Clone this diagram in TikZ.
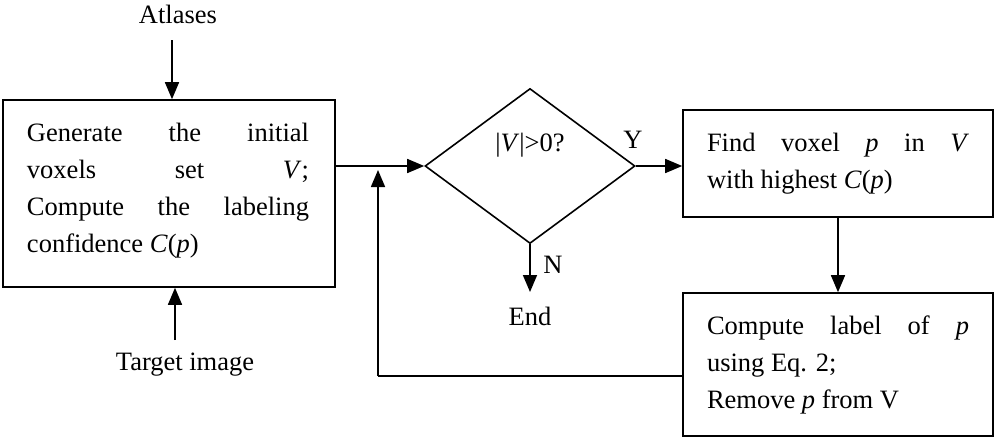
\documentclass[tikz,border=0pt]{standalone}
\usepackage{fontspec}
\setmainfont{Liberation Serif}
\usetikzlibrary{shapes.geometric, arrows.meta}
\newcommand{\fullline}[2]{\makebox[#1][s]{#2}}
\begin{document}
\begin{tikzpicture}[x=1pt, y=-1pt,
		every node/.style={font=\fontsize{26.5}{37}\selectfont},
		box/.style={draw, line width=1.6pt, inner sep=0pt, minimum height=#1},
		line/.style={line width=1.6pt},
		arr/.style={line width=1.6pt, -{Triangle[length=17pt, width=14pt]}}]
	\useasboundingbox (0,0) rectangle (999,439);
	\node[box=187pt, minimum width=332pt] (init) at (169,193.5) {};
	\node[align=left] (inittext) at (168,191)
		{\fullline{282pt}{Generate the initial}\\
		 \fullline{282pt}{voxels set \textit{V};}\\
		 \fullline{282pt}{Compute the labeling}\\
		 confidence \textit{C}(\textit{p})};
	\node (atlas) at (178,14) {Atlases};
	\node (target) at (185,365) {Target image};
	\node[draw, line width=1.6pt, diamond, minimum width=210pt, minimum height=155pt, inner sep=0pt] (test) at (530,166) {};
	\node (testtext) at (530,145) {|\textit{V}|>0?};
	\node[box=107pt, minimum width=310pt] (find) at (838,163.5) {};
	\node[align=left] (findtext) at (838,163.5)
		{\fullline{262pt}{Find voxel \textit{p} in \textit{V}}\\
		 with highest \textit{C}(\textit{p})};
	\node[box=143pt, minimum width=310pt] (label) at (838,364.5) {};
	\node[align=left] (labeltext) at (838,364.5)
		{\fullline{262pt}{Compute label of \textit{p}}\\
		 using Eq. 2;\\
		 Remove \textit{p} from V};
	\node (end) at (530,316) {End};
	\node (yes) at (633,140) {Y};
	\node (no) at (553,265) {N};
	\coordinate (atlasend) at (172,40);
	\coordinate (targetend) at (175,340);
	\coordinate (noend) at (530,292);
	\coordinate (corner1) at (378,376);
	\coordinate (corner2) at (378,170);
	\draw[arr] (atlasend) -- (init.north -| atlasend);
	\draw[arr] (targetend) -- (init.south -| targetend);
	\draw[arr] (init.east |- test) -- (test.west);
	\draw[arr] (test.east) -- (find.west |- test.east);
	\draw[arr] (test.south) -- (noend);
	\draw[arr] (find.south) -- (label.north);
	\draw[line] (label.west |- corner1) -- (corner1);
	\draw[arr] (corner1) -- (corner2);
\end{tikzpicture}
\end{document}
